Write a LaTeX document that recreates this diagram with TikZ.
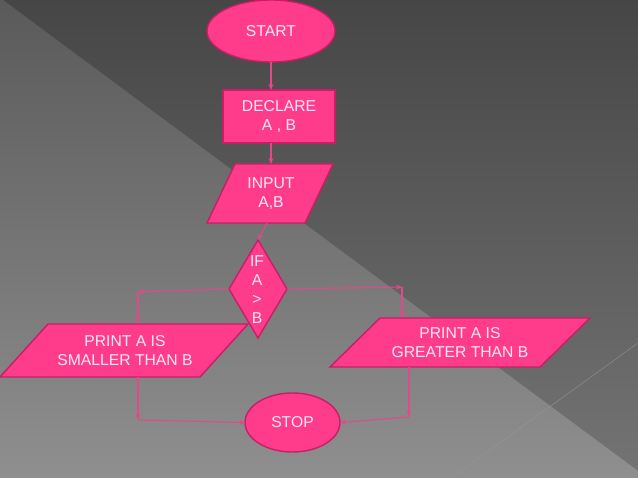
\documentclass[tikz,border=0pt]{standalone}
\usepackage{fontspec}
\setmainfont{Liberation Sans}
\usetikzlibrary{shapes.geometric,arrows.meta}
\definecolor{pinkfill}{HTML}{FF3B8B}
\definecolor{pinkedge}{HTML}{C81E66}
\definecolor{pinkline}{HTML}{E2488A}
\definecolor{txtcol}{HTML}{FCE8F1}
\tikzset{
  base/.style={fill=pinkfill, draw=pinkedge, line width=1.4pt, outer sep=0pt, inner sep=0pt,
    text=txtcol, font=\fontsize{15.7}{19}\selectfont, align=center},
  term/.style={base, ellipse},
  proc/.style={base, rectangle},
  decis/.style={base, diamond},
  iobox/.style={fill=pinkfill, draw=pinkedge, line width=1.4pt, line join=miter},
  lbl/.style={text=txtcol, font=\fontsize{15.7}{19}\selectfont, align=center, inner sep=0pt, outer sep=0pt},
  conn/.style={draw=pinkline, line width=1.1pt},
  tip/.style={-{Stealth[length=6pt,width=5pt]}},
}
\begin{document}
\begin{tikzpicture}[x=1pt,y=1pt]
\useasboundingbox (0,0) rectangle (638,-478);
% background
\shade[top color={rgb,255:red,70;green,70;blue,70}, middle color={rgb,255:red,86;green,86;blue,86}, bottom color={rgb,255:red,116;green,116;blue,116}] (0,0) rectangle (638,-478);
\shade[top color={rgb,255:red,90;green,90;blue,90}, middle color={rgb,255:red,110;green,110;blue,110}, bottom color={rgb,255:red,143;green,143;blue,143}] (0,0) -- (3,0) -- (638,-471) -- (638,-478) -- (0,-478) -- cycle;
\draw[color={rgb,255:red,150;green,150;blue,150}, line width=0.6pt, opacity=0.7] (638,-343) -- (451,-478);

% nodes
\node[term, minimum width=128pt, minimum height=62pt] (start) at (271,-31) {START};
\node[proc, minimum width=112pt, minimum height=53pt] (dec) at (279,-116.5) {DECLARE\\A , B};

\node[lbl, minimum width=126pt, minimum height=59pt] (inp) at (270,-193.5) {};
\filldraw[iobox] ([xshift=28pt]inp.north west) -- (inp.north east) -- ([xshift=-28pt]inp.south east) -- (inp.south west) -- cycle;
\node[lbl] (inptxt) at (271,-194) {INPUT\\A,B};

\node[decis, minimum width=58pt, minimum height=98pt] (if) at (258,-289) {};
\node[lbl] (iftxt) at (257,-290) {IF\\A\\>\\B};

\node[lbl, minimum width=248pt, minimum height=53pt] (lp) at (124,-350.5) {};
\filldraw[iobox] ([xshift=48pt]lp.north west) -- (lp.north east) -- ([xshift=-48pt]lp.south east) -- (lp.south west) -- cycle;
\node[lbl] (lptxt) at (125,-351) {PRINT A IS\\SMALLER THAN B};

\node[lbl, minimum width=260pt, minimum height=49pt] (rp) at (460,-342.5) {};
\filldraw[iobox] ([xshift=50pt]rp.north west) -- (rp.north east) -- ([xshift=-50pt]rp.south east) -- (rp.south west) -- cycle;
\node[lbl] (rptxt) at (460,-342.5) {PRINT A IS\\GREATER THAN B};

\node[term, minimum width=95pt, minimum height=59pt] (stop) at (292.5,-422.5) {STOP};

% corner points
\coordinate (l1) at (138,-292);
\coordinate (l2) at (138,-420);
\coordinate (r1) at (402,-287);
\coordinate (r2) at (409,-417);

% connectors
\draw[conn, tip] (start.south) -- (start.south |- dec.north);
\draw[conn, tip] (start.south |- dec.south) -- (start.south |- inp.north);
\draw[conn, tip] ([xshift=-3pt]inp.south) -- (if.north);
\draw[conn, tip] (if.west) -- (l1);
\draw[conn, tip] (l1) -- (l1 |- lp.north);
\draw[conn, tip] (if.east) -- (r1);
\draw[conn, tip] (r1) -- (r1 |- rp.north);
\draw[conn, tip] (l2 |- lp.south) -- (l2);
\draw[conn, tip] (l2) -- (stop.west);
\draw[conn, tip] (r2 |- rp.south) -- (r2);
\draw[conn, tip] (r2) -- (stop.east);
\end{tikzpicture}
\end{document}
